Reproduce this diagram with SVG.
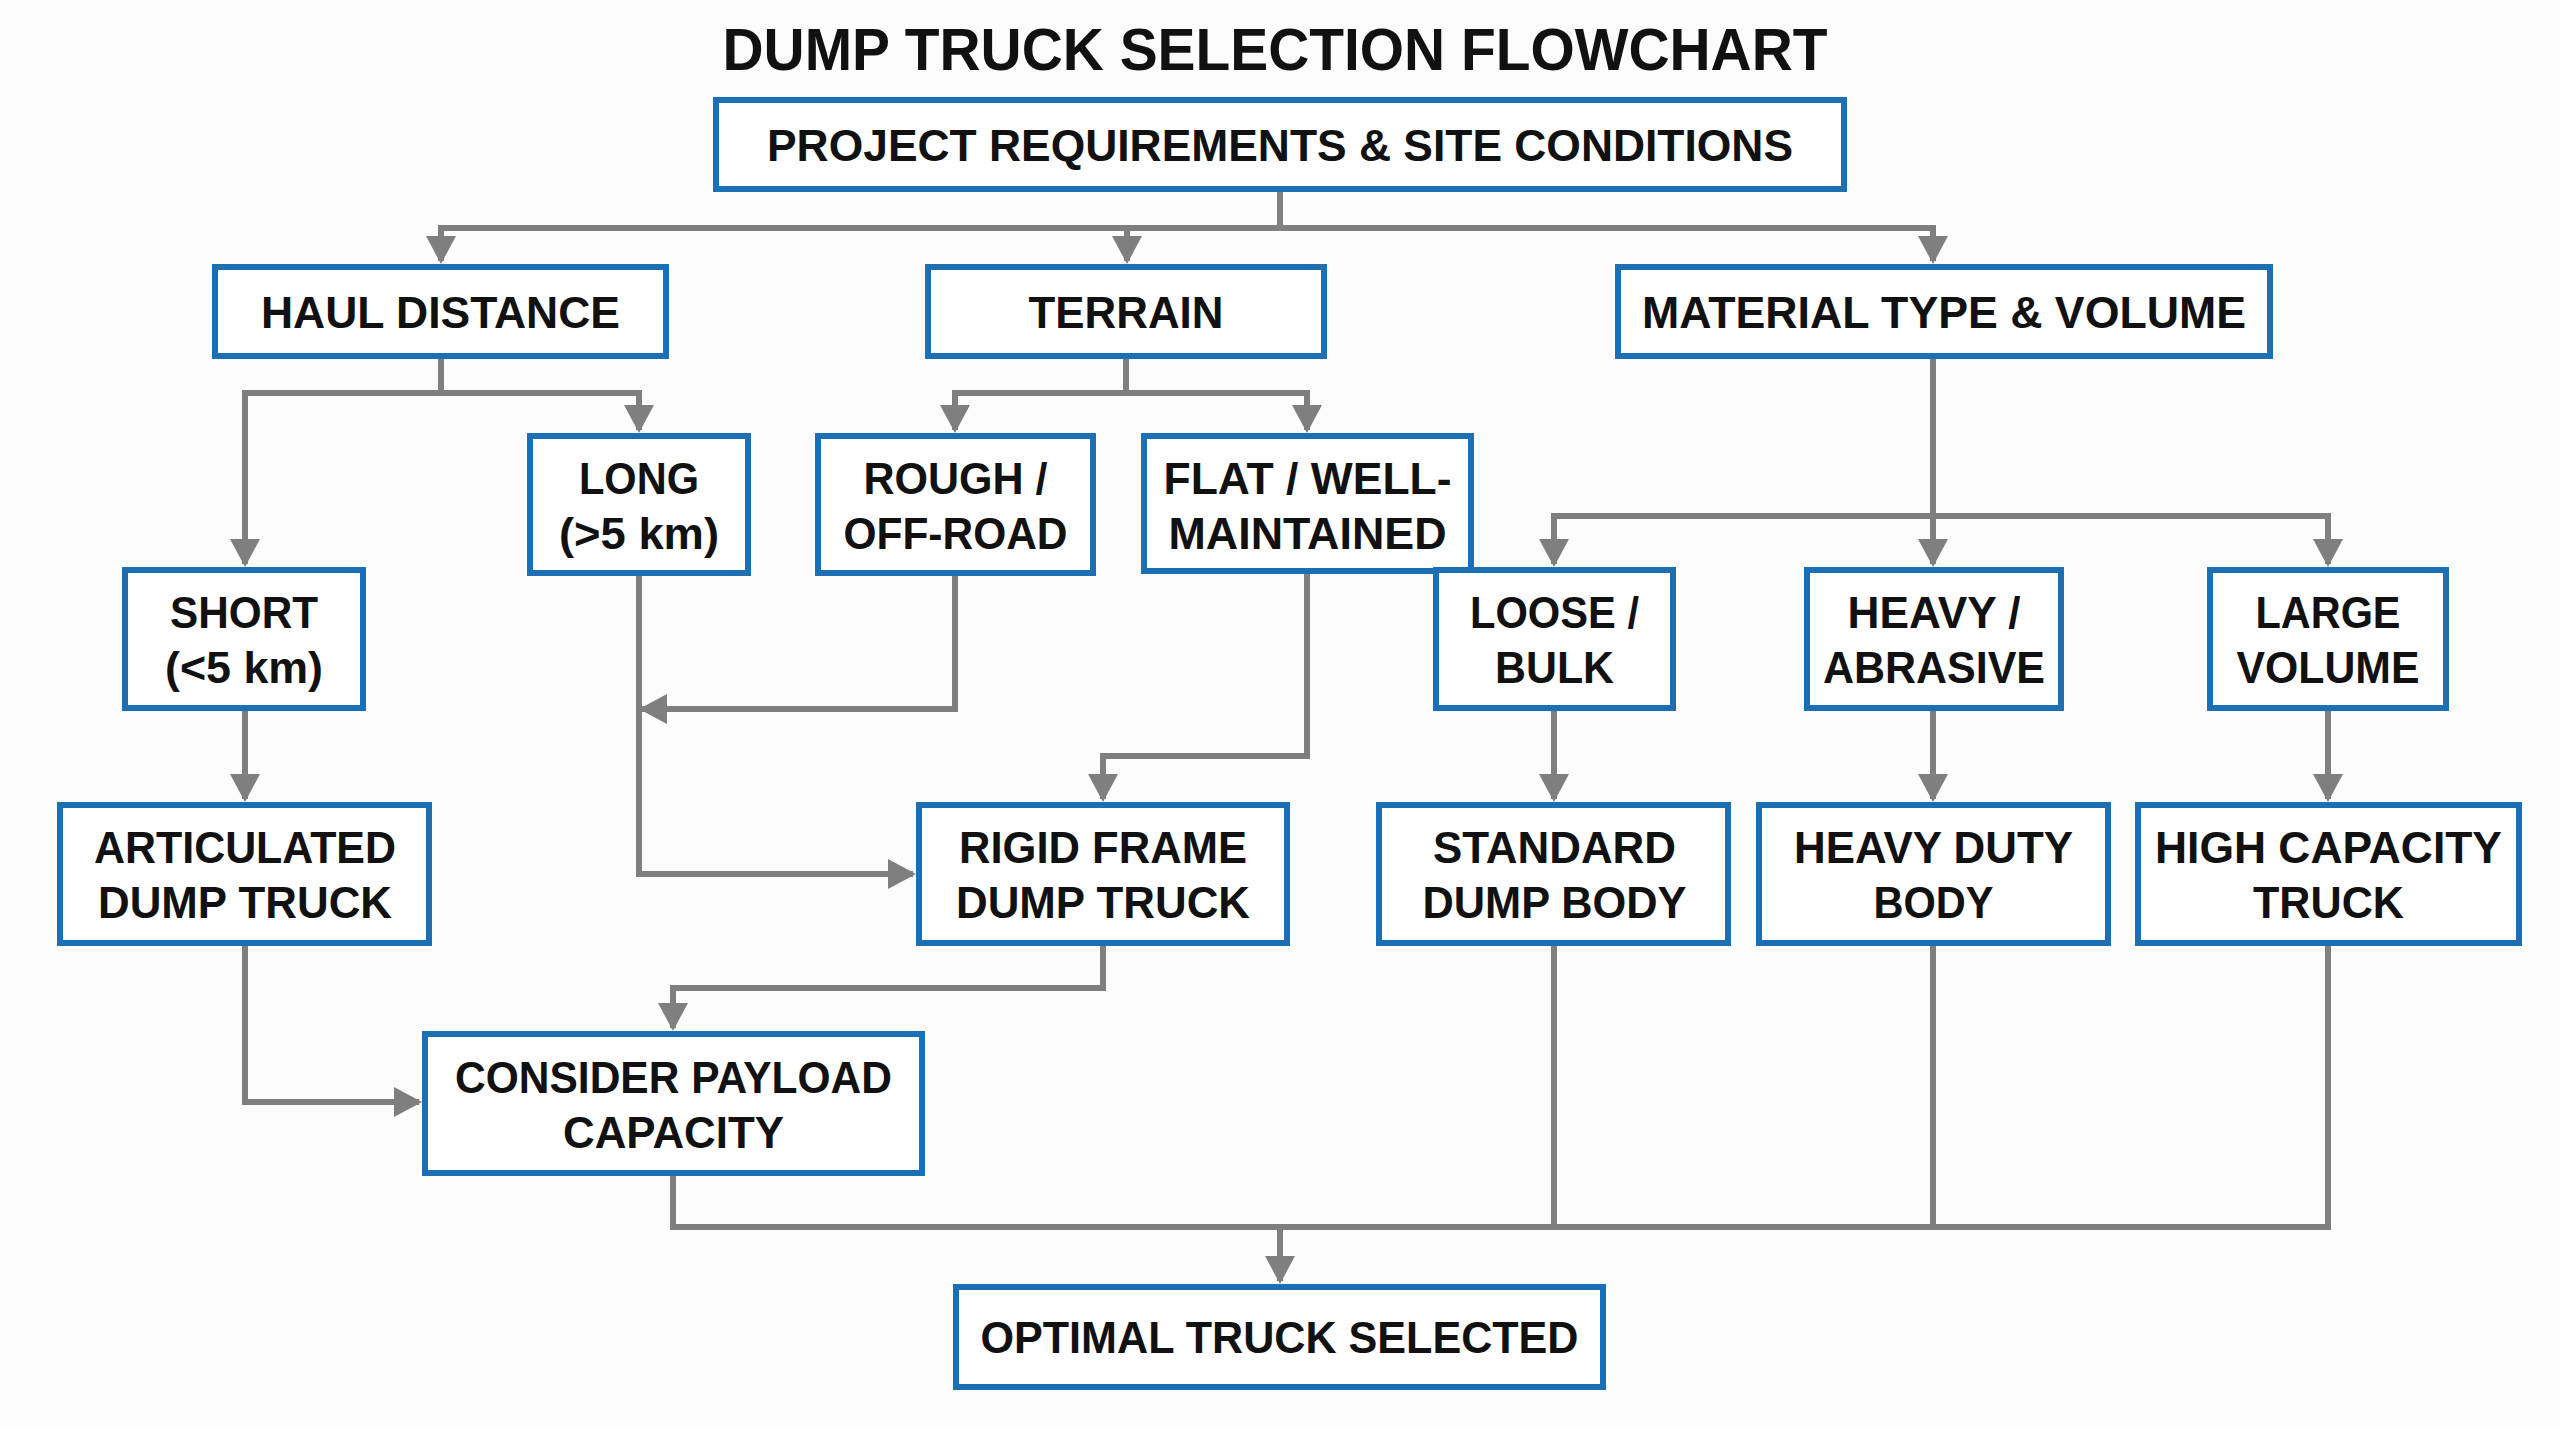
<svg xmlns="http://www.w3.org/2000/svg" width="2560" height="1429" viewBox="0 0 2560 1429">
<style>
.box{fill:#ffffff;stroke:#1d6fb4;stroke-width:6}
.t{font-family:"Liberation Sans",Arial,sans-serif;font-weight:bold;font-size:45px;fill:#111;text-anchor:middle}
.title{font-family:"Liberation Sans",Arial,sans-serif;font-weight:bold;font-size:60px;fill:#111;text-anchor:middle}
.c{fill:none;stroke:#7f7f7f;stroke-width:6;stroke-linecap:square;stroke-linejoin:miter}
.a{marker-end:url(#arr)}
</style>
<defs>
<marker id="arr" viewBox="0 0 28 30" refX="22" refY="15" markerWidth="28" markerHeight="30" markerUnits="userSpaceOnUse" orient="auto">
<path d="M0,0 L28,15 L0,30 Z" fill="#7f7f7f"/>
</marker>
</defs>
<rect width="2560" height="1429" fill="#fcfcfc"/>
<text class="title" x="1275" y="70" textLength="1105" lengthAdjust="spacingAndGlyphs">DUMP TRUCK SELECTION FLOWCHART</text>
<g id="connectors">
<path class="c" d="M1280,192 V228"/>
<path class="c" d="M441,228 H1933"/>
<path class="c a" d="M441,228 V258"/>
<path class="c a" d="M1127,228 V258"/>
<path class="c a" d="M1933,228 V258"/>
<path class="c" d="M441,359 V393"/>
<path class="c" d="M245,393 H639"/>
<path class="c a" d="M245,393 V561"/>
<path class="c a" d="M639,393 V427"/>
<path class="c" d="M1126,359 V393"/>
<path class="c" d="M955,393 H1307"/>
<path class="c a" d="M955,393 V427"/>
<path class="c a" d="M1307,393 V427"/>
<path class="c a" d="M1933,359 V561"/>
<path class="c" d="M1554,516 H2328"/>
<path class="c a" d="M1554,516 V561"/>
<path class="c a" d="M2328,516 V561"/>
<path class="c a" d="M245,711 V796"/>
<path class="c a" d="M639,576 V874 H910"/>
<path class="c a" d="M955,576 V709 H645"/>
<path class="c a" d="M1307,574 V756 H1103 V796"/>
<path class="c a" d="M1554,711 V796"/>
<path class="c a" d="M1933,711 V796"/>
<path class="c a" d="M2328,711 V796"/>
<path class="c a" d="M1103,946 V988 H673 V1025"/>
<path class="c a" d="M245,946 V1102 H416"/>
<path class="c" d="M673,1176 V1227 H2328"/>
<path class="c" d="M1554,946 V1227"/>
<path class="c" d="M1933,946 V1227"/>
<path class="c" d="M2328,946 V1227"/>
<path class="c a" d="M1280,1227 V1278"/>
</g>
<g id="n_project"><rect class="box" x="716" y="100" width="1128" height="89"/><text class="t" x="1280" y="161" textLength="1026" lengthAdjust="spacingAndGlyphs">PROJECT REQUIREMENTS &amp; SITE CONDITIONS</text></g>
<g id="n_haul"><rect class="box" x="215" y="267" width="451" height="89"/><text class="t" x="440.5" y="328" textLength="359" lengthAdjust="spacingAndGlyphs">HAUL DISTANCE</text></g>
<g id="n_terrain"><rect class="box" x="928" y="267" width="396" height="89"/><text class="t" x="1126" y="328" textLength="195" lengthAdjust="spacingAndGlyphs">TERRAIN</text></g>
<g id="n_material"><rect class="box" x="1618" y="267" width="652" height="89"/><text class="t" x="1944" y="328" textLength="604" lengthAdjust="spacingAndGlyphs">MATERIAL TYPE &amp; VOLUME</text></g>
<g id="n_long"><rect class="box" x="530" y="436" width="218" height="137"/><text class="t" x="639" y="494" textLength="120" lengthAdjust="spacingAndGlyphs">LONG</text><text class="t" x="639" y="549" textLength="160" lengthAdjust="spacingAndGlyphs">(&gt;5 km)</text></g>
<g id="n_rough"><rect class="box" x="818" y="436" width="275" height="137"/><text class="t" x="955.5" y="494" textLength="184" lengthAdjust="spacingAndGlyphs">ROUGH /</text><text class="t" x="955.5" y="549" textLength="224" lengthAdjust="spacingAndGlyphs">OFF-ROAD</text></g>
<g id="n_flat"><rect class="box" x="1144" y="436" width="327" height="135"/><text class="t" x="1307.5" y="494" textLength="288" lengthAdjust="spacingAndGlyphs">FLAT / WELL-</text><text class="t" x="1307.5" y="549" textLength="278" lengthAdjust="spacingAndGlyphs">MAINTAINED</text></g>
<g id="n_short"><rect class="box" x="125" y="570" width="238" height="138"/><text class="t" x="244" y="628" textLength="148" lengthAdjust="spacingAndGlyphs">SHORT</text><text class="t" x="244" y="683" textLength="158" lengthAdjust="spacingAndGlyphs">(&lt;5 km)</text></g>
<g id="n_loose"><rect class="box" x="1436" y="570" width="237" height="138"/><text class="t" x="1554.5" y="628" textLength="169" lengthAdjust="spacingAndGlyphs">LOOSE /</text><text class="t" x="1554.5" y="683" textLength="119" lengthAdjust="spacingAndGlyphs">BULK</text></g>
<g id="n_heavy"><rect class="box" x="1807" y="570" width="254" height="138"/><text class="t" x="1934" y="628" textLength="173" lengthAdjust="spacingAndGlyphs">HEAVY /</text><text class="t" x="1934" y="683" textLength="222" lengthAdjust="spacingAndGlyphs">ABRASIVE</text></g>
<g id="n_large"><rect class="box" x="2210" y="570" width="236" height="138"/><text class="t" x="2328" y="628" textLength="145" lengthAdjust="spacingAndGlyphs">LARGE</text><text class="t" x="2328" y="683" textLength="183" lengthAdjust="spacingAndGlyphs">VOLUME</text></g>
<g id="n_articulated"><rect class="box" x="60" y="805" width="369" height="138"/><text class="t" x="245" y="863" textLength="302" lengthAdjust="spacingAndGlyphs">ARTICULATED</text><text class="t" x="245" y="918" textLength="294" lengthAdjust="spacingAndGlyphs">DUMP TRUCK</text></g>
<g id="n_rigid"><rect class="box" x="919" y="805" width="368" height="138"/><text class="t" x="1103" y="863" textLength="288" lengthAdjust="spacingAndGlyphs">RIGID FRAME</text><text class="t" x="1103" y="918" textLength="294" lengthAdjust="spacingAndGlyphs">DUMP TRUCK</text></g>
<g id="n_standard"><rect class="box" x="1379" y="805" width="349" height="138"/><text class="t" x="1554.5" y="863" textLength="243" lengthAdjust="spacingAndGlyphs">STANDARD</text><text class="t" x="1554.5" y="918" textLength="264" lengthAdjust="spacingAndGlyphs">DUMP BODY</text></g>
<g id="n_heavyduty"><rect class="box" x="1759" y="805" width="349" height="138"/><text class="t" x="1933.5" y="863" textLength="279" lengthAdjust="spacingAndGlyphs">HEAVY DUTY</text><text class="t" x="1933.5" y="918" textLength="120" lengthAdjust="spacingAndGlyphs">BODY</text></g>
<g id="n_highcap"><rect class="box" x="2138" y="805" width="381" height="138"/><text class="t" x="2328.5" y="863" textLength="347" lengthAdjust="spacingAndGlyphs">HIGH CAPACITY</text><text class="t" x="2328.5" y="918" textLength="151" lengthAdjust="spacingAndGlyphs">TRUCK</text></g>
<g id="n_consider"><rect class="box" x="425" y="1034" width="497" height="139"/><text class="t" x="673.5" y="1093" textLength="437" lengthAdjust="spacingAndGlyphs">CONSIDER PAYLOAD</text><text class="t" x="673.5" y="1148" textLength="221" lengthAdjust="spacingAndGlyphs">CAPACITY</text></g>
<g id="n_optimal"><rect class="box" x="956" y="1287" width="647" height="100"/><text class="t" x="1279.5" y="1353" textLength="598" lengthAdjust="spacingAndGlyphs">OPTIMAL TRUCK SELECTED</text></g>
</svg>
